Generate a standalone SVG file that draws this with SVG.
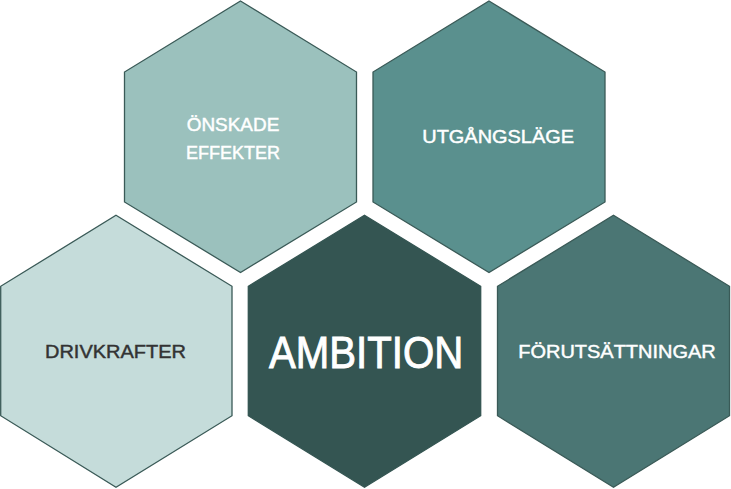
<svg xmlns="http://www.w3.org/2000/svg" width="731" height="489" viewBox="0 0 731 489">
  <style>
    .hex { stroke: #3a5a57; stroke-width: 1.3; stroke-linejoin: miter; }
    .lbl { font-family: "Liberation Sans", Arial, sans-serif; font-size: 18.5px; fill: #ffffff; stroke: #ffffff; stroke-width: 0.45; }
    .dark { fill: #333333; stroke: #333333; }
    .big { font-size: 44px; stroke-width: 0.9; }
  </style>
  <rect width="731" height="489" fill="#ffffff"/>
  <g id="onskade-effekter">
    <polygon class="hex" fill="#9bc1bd" points="240.5,1 356.5,72 356.5,202 240.5,272.5 124.5,202 124.5,72"/>
    <text class="lbl" x="186.7" y="131" textLength="92.6" lengthAdjust="spacingAndGlyphs">ÖNSKADE</text>
    <text class="lbl" x="186" y="159" textLength="94" lengthAdjust="spacingAndGlyphs">EFFEKTER</text>
  </g>
  <g id="utgangslage">
    <polygon class="hex" fill="#5a908e" points="489,1 605,72 605,202 489,272.5 373,202 373,72"/>
    <text class="lbl" x="422.3" y="143.3" textLength="151.7" lengthAdjust="spacingAndGlyphs">UTGÅNGSLÄGE</text>
  </g>
  <g id="drivkrafter">
    <polygon class="hex" fill="#c5dcda" points="116,215.3 232,286.3 232,415.7 116,487.3 0.7,415.7 0.7,286.3"/>
    <text class="lbl dark" x="45" y="358.3" textLength="141" lengthAdjust="spacingAndGlyphs">DRIVKRAFTER</text>
  </g>
  <g id="ambition">
    <polygon fill="#345552" stroke="#345552" stroke-width="1.3" points="364.5,215.3 480.7,286.3 480.7,415.7 364.5,487.3 248.3,415.7 248.3,286.3"/>
    <text class="lbl big" x="269" y="368.3" textLength="194.3" lengthAdjust="spacingAndGlyphs">AMBITION</text>
  </g>
  <g id="forutsattningar">
    <polygon class="hex" fill="#4b7674" points="613.5,215.3 729.5,286.3 729.5,415.7 613.5,487.3 497.5,415.7 497.5,286.3"/>
    <text class="lbl" x="518.3" y="358.3" textLength="197.4" lengthAdjust="spacingAndGlyphs">FÖRUTSÄTTNINGAR</text>
  </g>
  <g id="connectors"/>
</svg>
